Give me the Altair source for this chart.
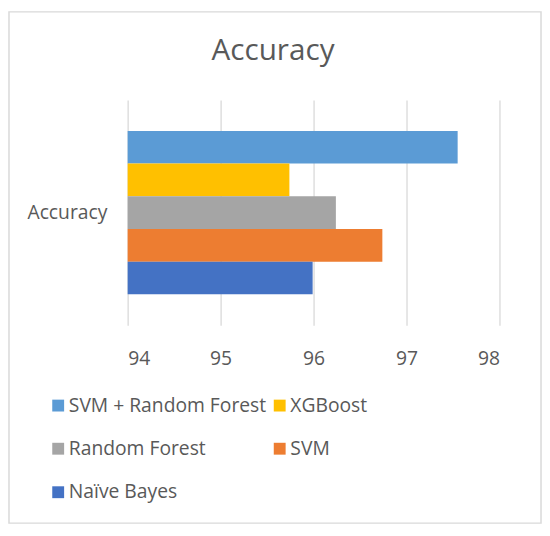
import altair as alt
import pandas as pd

models = ["SVM + Random Forest", "XGBoost", "Random Forest", "SVM", "Naïve Bayes"]
accuracy = [97.55, 95.74, 96.24, 96.74, 95.99]
colors = ["#5B9BD5", "#FFC000", "#A5A5A5", "#ED7D31", "#4472C4"]
category = ["Accuracy"] * len(models)
x_ticks = [94, 95, 96, 97, 98]
x_min = 94

df = pd.DataFrame({"metric": category, "model": models, "value": accuracy})

FONT = "Open Sans"
GRAY = "#595959"
FS = 19.5

bars = alt.Chart(df).mark_bar().encode(
    x=alt.X("value:Q",
            scale=alt.Scale(domain=[94, 98], nice=False, zero=False, clamp=True),
            axis=alt.Axis(values=x_ticks, title=None, domain=False, ticks=False,
                          grid=True, gridColor="#D9D9D9", gridWidth=1.3,
                          labelPadding=25, labelFontSize=FS, labelColor=GRAY,
                          labelFont=FONT)),
    x2=alt.datum(x_min),
    y=alt.Y("metric:N",
            scale=alt.Scale(paddingOuter=0.19, paddingInner=0),
            axis=alt.Axis(title=None, domain=False, ticks=False, grid=False,
                          labelPadding=21, labelFontSize=FS, labelColor=GRAY,
                          labelFont=FONT)),
    yOffset=alt.YOffset("model:N", sort=models,
                        scale=alt.Scale(paddingInner=0, paddingOuter=0)),
    color=alt.Color("model:N", sort=models,
                    scale=alt.Scale(domain=models, range=colors),
                    legend=alt.Legend(title=None, orient="none", direction="horizontal",
                                      legendX=-80, legendY=299,
                                      columns=2, columnPadding=3, rowPadding=23,
                                      symbolType="square", symbolSize=144,
                                      symbolStrokeWidth=0, labelOffset=1,
                                      labelFontSize=FS, labelColor=GRAY,
                                      labelFont=FONT, labelLimit=400)),
)

frame = alt.Chart(alt.Data(values=[{"f": 1}])).mark_rect(
    fill=None, stroke="#D9D9D9", strokeWidth=1.5
).encode(
    x=alt.value(-120), x2=alt.value(418),
    y=alt.value(-89), y2=alt.value(428),
)

chart = alt.layer(frame, bars).properties(
    width=376, height=228, padding=0,
    title=alt.TitleParams("Accuracy", fontSize=30, font=FONT, color=GRAY,
                          fontWeight="normal", anchor="middle", dx=-41, offset=-55),
).configure_view(stroke=None)

chart.save("out.html", embed_options={"renderer": "svg", "actions": False})
